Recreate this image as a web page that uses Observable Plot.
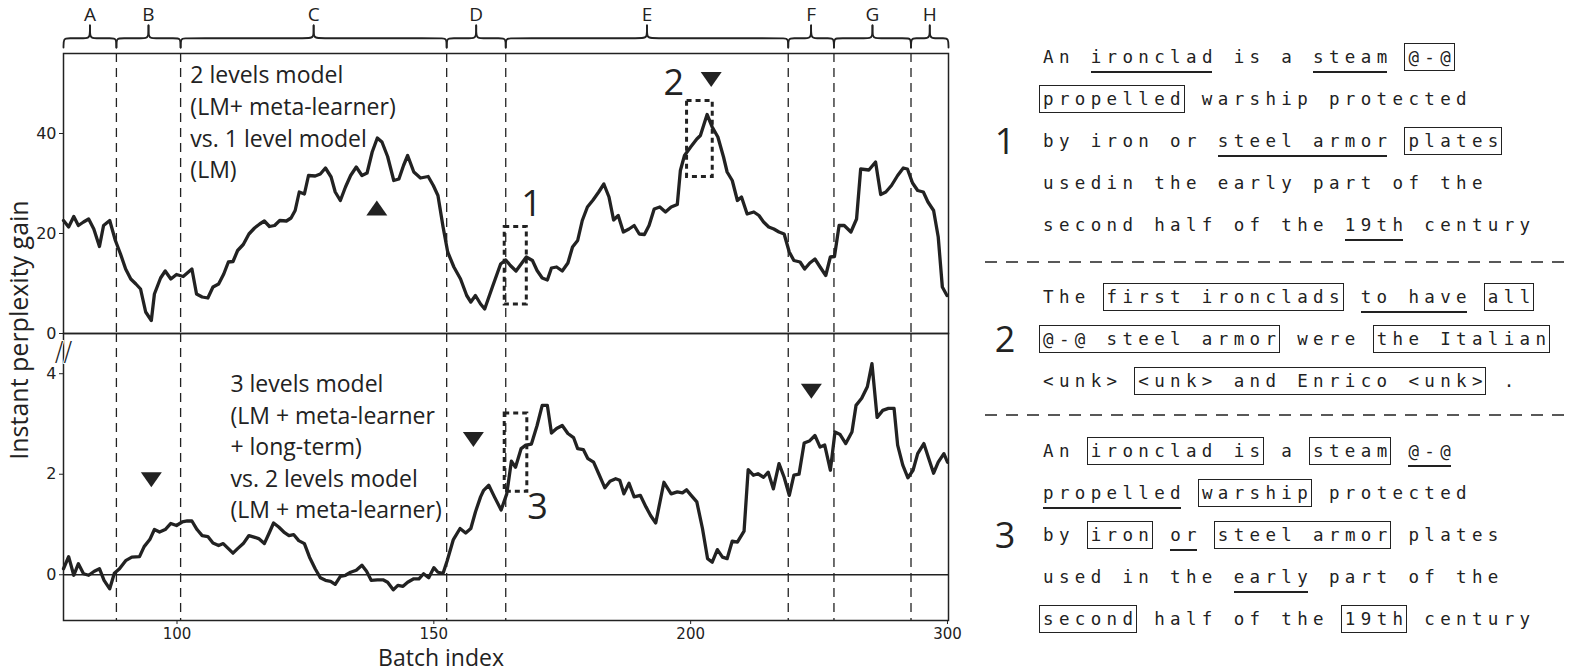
<!DOCTYPE html>
<html><head><meta charset="utf-8">
<script src="https://cdn.jsdelivr.net/npm/d3@7"></script>
<script src="https://cdn.jsdelivr.net/npm/@observablehq/plot@0.6"></script>
<style>
body{margin:0;background:#fff;}
#root{position:relative;width:1575px;height:672px;overflow:hidden;font-family:"Open Sans",sans-serif;color:#222;background:#fff}
.abs{position:absolute}
.ln{white-space:pre;font-family:"DejaVu Sans Mono",monospace;font-size:17.5px;letter-spacing:5.35px;line-height:42px;height:42px;color:#222}
.bx{outline:1.8px solid #222;outline-offset:3px}
.ul{border-bottom:2px solid #222;padding-bottom:4px}
.num{position:absolute;font-family:"Open Sans",sans-serif;font-size:36px;transform:translate(-50%,-50%);line-height:1}
</style></head><body><div id="root"></div>
<script>
// ---------- data ----------
const xDomain = [77.9, 250.2];
const boundaries = [88.2, 100.7, 152.5, 164.0, 219.0, 227.9, 242.9];
const braceLabels = ["A","B","C","D","E","F","G","H"];
const xTicks = [100, 150, 200, 250];
const xTickLabels = ["100", "150", "200", "300"];
const topTicks = [0, 20, 40];
const bottomTicks = [0, 2, 4];
const topDomain = [0, 56];
const bottomDomain = [-0.91, 4.8];

const topX = [77.9,78.9,79.9,80.8,81.8,82.8,83.8,84.9,85.7,86.9,
88.0,89.0,90.0,91.0,92.0,92.9,93.9,95.0,95.6,96.8,
97.7,98.8,99.9,101.2,102.9,103.8,104.9,106.0,107.0,108.1,
109.1,110.0,110.9,111.8,112.9,114.0,115.1,116.1,117.0,118.0,
119.0,120.0,121.3,122.2,123.0,123.8,124.8,125.6,126.9,127.9,
128.9,130.0,130.8,131.8,132.8,133.8,134.9,136.0,137.0,138.0,
139.0,139.9,141.0,142.2,143.2,144.1,144.9,146.1,147.4,148.9,
149.9,150.8,151.8,152.7,153.9,155.2,156.4,157.2,158.1,159.1,
159.9,161.4,163.0,164.0,164.9,166.0,167.0,168.0,169.2,170.1,
171.1,172.1,172.9,173.9,175.0,176.1,177.0,178.0,178.9,179.9,
181.0,182.1,183.1,184.1,185.0,185.9,186.9,188.0,189.0,190.0,
191.0,191.9,192.9,194.0,195.1,196.2,197.4,198.0,198.8,200.0,
201.2,201.9,203.2,204.2,205.3,206.4,207.1,208.1,209.1,209.9,
211.0,212.3,213.3,214.2,215.2,216.2,217.2,218.2,219.2,220.1,
221.3,222.2,223.2,224.2,225.2,226.3,227.2,228.0,228.9,229.9,
231.2,232.3,233.1,234.7,236.0,237.0,238.0,239.1,240.3,241.4,
242.2,243.2,244.2,245.3,246.2,247.3,248.2,249.0,249.9];
const topY = [22.6,21.3,23.4,21.6,22.3,22.9,20.9,17.4,21.6,22.6,
18.6,15.9,12.9,10.9,9.9,8.9,4.3,2.6,7.9,11.1,
12.5,10.9,11.8,11.4,12.9,7.9,7.3,7.1,9.3,9.9,
11.9,14.3,14.4,16.6,17.8,19.9,21.1,21.9,22.5,21.4,
21.6,22.6,22.5,23.1,24.6,28.3,27.9,31.6,31.5,31.9,
33.1,31.3,28.3,26.6,29.3,31.6,33.3,31.6,32.1,36.3,
39.1,38.3,35.4,30.6,30.9,33.6,35.6,32.3,31.1,31.4,
29.6,27.6,21.3,16.3,13.3,10.9,7.6,6.3,7.6,5.9,
4.9,9.3,13.9,14.7,13.6,12.5,13.9,15.3,14.6,12.6,
11.1,10.7,13.1,13.3,12.5,14.1,17.3,18.6,22.6,25.3,
26.7,28.3,29.9,27.3,22.7,23.6,20.3,20.9,21.6,19.9,
19.8,21.6,24.9,25.3,24.3,25.3,25.8,32.6,35.6,37.3,
38.9,39.6,43.8,41.3,39.3,35.3,32.3,30.6,26.6,27.3,
23.9,24.3,23.6,22.3,21.3,20.9,20.3,19.9,16.3,14.6,
14.3,12.9,14.1,14.9,13.3,11.6,15.3,15.4,21.6,21.6,
20.3,22.9,32.9,32.7,34.3,27.8,28.3,29.6,31.6,33.1,
32.9,30.1,28.6,28.3,26.3,24.6,19.3,9.3,7.6];

const botX = [77.9,78.9,79.9,80.8,81.8,82.8,83.9,84.9,85.8,86.9,
87.8,88.8,90.0,91.2,92.7,93.6,94.7,95.6,96.6,97.7,
98.8,99.9,101.0,102.0,102.9,103.9,104.9,106.0,107.0,108.1,
109.0,110.0,110.9,111.8,112.9,114.0,115.0,115.9,117.0,117.9,
118.8,119.8,120.8,121.8,122.7,123.7,124.8,125.8,126.9,127.9,
128.9,129.9,130.8,131.8,132.8,133.8,134.9,136.0,136.9,137.8,
139.0,140.1,141.0,142.1,143.0,144.0,144.9,146.1,147.1,148.0,
149.0,150.0,150.8,151.8,152.6,153.8,155.1,156.2,157.2,158.1,
159.1,159.7,160.7,161.8,163.1,164.2,165.1,165.9,167.0,167.9,
169.0,170.1,171.1,172.1,172.9,173.9,175.0,176.1,177.2,178.0,
179.1,180.0,181.1,182.1,183.3,184.3,185.4,186.2,187.0,188.0,
189.0,190.2,191.3,192.2,193.2,194.8,196.2,197.4,198.4,199.2,
200.1,201.2,202.3,203.3,204.2,205.2,206.2,207.1,208.1,209.1,
210.4,211.2,212.2,213.1,214.2,215.1,216.1,217.2,218.2,219.2,
220.1,221.1,222.1,223.1,224.2,225.2,226.1,227.2,228.1,229.1,
230.2,231.4,232.2,233.3,234.4,235.3,236.3,237.4,238.5,239.6,
240.3,241.3,242.3,243.3,244.2,245.4,246.3,247.3,248.2,249.3,
250.0];
const botY = [0.12,0.36,-0.01,0.22,0.02,-0.01,0.07,0.12,-0.11,-0.28,
0.03,0.12,0.28,0.35,0.36,0.56,0.70,0.90,0.85,0.90,
1.02,0.98,1.05,1.07,1.07,0.90,0.78,0.76,0.63,0.58,
0.62,0.52,0.43,0.52,0.62,0.78,0.75,0.72,0.62,0.82,
1.03,0.95,0.85,0.78,0.80,0.68,0.62,0.35,0.12,-0.06,
-0.11,-0.13,-0.19,-0.03,-0.01,0.05,0.09,0.19,0.07,-0.11,
-0.10,-0.10,-0.15,-0.30,-0.21,-0.23,-0.15,-0.08,-0.08,0.02,
-0.06,0.14,0.05,0.03,0.28,0.70,0.92,0.83,0.92,1.25,
1.55,1.68,1.78,1.55,1.29,1.61,2.26,2.14,2.51,2.58,
2.60,2.97,3.37,3.37,2.82,2.91,2.97,2.81,2.73,2.51,
2.49,2.31,2.24,2.01,1.73,1.86,1.91,1.88,1.61,1.82,
1.55,1.58,1.35,1.18,1.03,1.84,1.61,1.65,1.63,1.69,
1.58,1.45,0.92,0.32,0.25,0.50,0.35,0.32,0.67,0.65,
0.87,2.09,1.98,2.01,1.94,2.04,1.71,2.21,1.94,1.58,
1.98,2.00,2.62,2.66,2.77,2.54,2.58,2.08,2.84,2.79,
2.61,2.84,3.37,3.51,3.74,4.20,3.13,3.27,3.31,3.31,
2.58,2.18,1.93,2.08,2.41,2.61,2.33,2.02,2.24,2.41,
2.24];

const topBoxes = [{x1:163.8,x2:168.1,y1:5.8,y2:21.3},{x1:199.3,x2:204.3,y1:31.3,y2:46.5}];
const bottomBoxes = [{x1:163.8,x2:168.2,y1:1.65,y2:3.21}];
const topBoxLabels = [{x:169.0,y:25.9,text:"1"},{x:196.7,y:50.0,text:"2"}];
const bottomBoxLabels = [{x:170.2,y:1.33,text:"3"}];
const topMarkersUp = [{x:138.9,y:25.1}];
const topMarkersDown = [{x:204.0,y:50.8}];
const bottomMarkersDown = [{x:95.0,y:1.89},{x:157.7,y:2.69},{x:223.5,y:3.65}];
const topNote = [{x:102.6,y:54.6,text:"2 levels model\n(LM+ meta-learner)\nvs. 1 level model\n(LM)"}];
const bottomNote = [{x:110.4,y:4.08,text:"3 levels model\n(LM + meta-learner\n+ long-term)\nvs. 2 levels model\n(LM + meta-learner)"}];
const breakMark = [{x:77.9,y:4.42,text:"//"}];

const passage1 = [
  [["An ",""],["ironclad","u"],[" is a ",""],["steam","u"],[" ",""],["@-@","b"]],
  [["propelled","b"],[" warship protected",""]],
  [["by iron or ",""],["steel armor","u"],[" ",""],["plates","b"]],
  [["usedin the early part of the",""]],
  [["second half of the ",""],["19th","u"],[" century",""]]
];
const passage2 = [
  [["The ",""],["first ironclads","b"],[" ",""],["to have","u"],[" ",""],["all","b"]],
  [["@-@ steel armor","b"],[" were ",""],["the Italian","b"]],
  [["<unk> ",""],["<unk> and Enrico <unk>","b"],[" .",""]]
];
const passage3 = [
  [["An ",""],["ironclad is","b"],[" a ",""],["steam","b"],[" ",""],["@-@","u"]],
  [["propelled","u"],[" ",""],["warship","b"],[" protected",""]],
  [["by ",""],["iron","b"],[" ",""],["or","u"],[" ",""],["steel armor","b"],[" plates",""]],
  [["used in the ",""],["early","u"],[" part of the",""]],
  [["second","b"],[" half of the ",""],["19th","b"],[" century",""]]
];
const passageLabels = ["1","2","3"];

// ---------- build ----------
const root = document.getElementById("root");
const ink = "#222";
const W = 960, ML = 63, MR = 12;

// axis titles first (plots drawn above them)
const yt = document.createElement("div");
yt.textContent = "Instant perplexity gain";
yt.style.cssText = "position:absolute;left:18px;top:330px;transform:translate(-50%,-50%) rotate(-90deg);white-space:nowrap;font-size:25px;line-height:1;font-family:'Open Sans';color:#222";
root.appendChild(yt);
const xt = document.createElement("div");
xt.textContent = "Batch index";
xt.style.cssText = "position:absolute;left:441px;top:657px;transform:translate(-50%,-50%);white-space:nowrap;font-size:23px;line-height:1;font-family:'Open Sans';color:#222";
root.appendChild(xt);

function place(el, left, top){ const d = document.createElement("div"); d.className="abs"; d.style.left=left+"px"; d.style.top=top+"px"; d.appendChild(el); root.appendChild(d); return d; }

const triUp = {draw(ctx, size){ const r = Math.sqrt(size/Math.PI); const w=r*1.05, h=r*0.75; ctx.moveTo(0,-h); ctx.lineTo(w,h); ctx.lineTo(-w,h); ctx.closePath(); }};
const triDown = {draw(ctx, size){ const r = Math.sqrt(size/Math.PI); const w=r*1.05, h=r*0.75; ctx.moveTo(0,h); ctx.lineTo(w,-h); ctx.lineTo(-w,-h); ctx.closePath(); }};
const intFmt = d3.format("d");

// braces
const edges = [xDomain[0], ...boundaries, xDomain[1]];
const segs = braceLabels.map((label,i)=>({a:edges[i], b:edges[i+1], label}));
const bracePts = [];
segs.forEach((s,i)=>{
  const m = (s.a+s.b)/2, r = Math.min(0.9, (s.b-s.a)/8), yb = 0.42;
  [["L",[[s.a,0],[s.a,yb],[s.a+r,yb],[m-r,yb],[m,yb],[m,1]]],["R",[[s.b,0],[s.b,yb],[s.b-r,yb],[m+r,yb],[m,yb],[m,1]]]]
   .forEach(([side,pts])=>pts.forEach(([x,y])=>bracePts.push({id:i+side,x,y})));
});
const braces = Plot.plot({
  width: W, height: 53, marginLeft: ML, marginRight: MR, marginTop: 0, marginBottom: 0,
  x: {domain: xDomain, axis: null},
  y: {domain: [0,1], range: [47,25], axis: null},
  style: {background:"transparent", overflow:"visible"},
  marks: [
    Plot.line(bracePts, {x:"x", y:"y", z:"id", curve:"basis", stroke:ink, strokeWidth:1.8}),
    Plot.text(segs, {x: d=>(d.a+d.b)/2, y: ()=>1.5, text:"label", fontSize:19, fontFamily:"Open Sans", fill:ink, lineAnchor:"middle"})
  ]
});
place(braces, 0, 0);

// top panel
const topData = topX.map((x,i)=>({x, y: topY[i]}));
const topPlot = Plot.plot({
  width: W, height: 293, marginLeft: ML, marginRight: MR, marginTop: 10, marginBottom: 3,
  x: {domain: xDomain, axis: null},
  y: {domain: topDomain, axis: null},
  style: {background:"transparent", overflow:"visible"},
  marks: [
    Plot.ruleX(boundaries, {stroke:ink, strokeWidth:1.3, strokeDasharray:"9,6"}),
    Plot.frame({stroke:ink, strokeWidth:1.5}),
    Plot.axisY({ticks: topTicks, tickFormat: intFmt, tickSize: 4, tickPadding: 3, label: null, fontSize: 16, fontFamily:"DejaVu Sans", color: ink}),
    Plot.rect(topBoxes, {x1:"x1", x2:"x2", y1:"y1", y2:"y2", fill:"none", stroke:ink, strokeWidth:3, strokeDasharray:"5,4"}),
    Plot.line(topData, {x:"x", y:"y", stroke:ink, strokeWidth:3.3}),
    Plot.dot(topMarkersUp, {x:"x", y:"y", r:10, symbol: triUp, fill:ink, stroke:"none"}),
    Plot.dot(topMarkersDown, {x:"x", y:"y", r:10, symbol: triDown, fill:ink, stroke:"none"}),
    Plot.text(topNote, {x:"x", y:"y", text:"text", textAnchor:"start", lineAnchor:"top", lineHeight:1.38, fontSize:23, fontFamily:"Open Sans", fill:ink}),
    Plot.text(topBoxLabels, {x:"x", y:"y", text:"text", fontSize:36, fontFamily:"Open Sans", fill:ink, lineAnchor:"middle"})
  ]
});
place(topPlot, 0, 43);

// bottom panel
const botData = botX.map((x,i)=>({x, y: botY[i]}));
const botPlot = Plot.plot({
  width: W, height: 342, marginLeft: ML, marginRight: MR, marginTop: 3, marginBottom: 52,
  x: {domain: xDomain},
  y: {domain: bottomDomain},
  style: {background:"transparent", overflow:"visible"},
  marks: [
    Plot.ruleX(boundaries, {stroke:ink, strokeWidth:1.3, strokeDasharray:"9,6"}),
    Plot.ruleY([0], {stroke:ink, strokeWidth:1.5}),
    Plot.frame({stroke:ink, strokeWidth:1.5}),
    Plot.axisY({ticks: bottomTicks, tickFormat: intFmt, tickSize: 4, tickPadding: 3, label: null, fontSize: 16, fontFamily:"DejaVu Sans", color: ink}),
    Plot.axisX({ticks: xTicks, tickFormat: d => xTickLabels[xTicks.indexOf(d)], tickSize: 4, tickPadding: 4, label: null, fontSize: 15, fontFamily:"DejaVu Sans", color: ink}),
    Plot.rect(bottomBoxes, {x1:"x1", x2:"x2", y1:"y1", y2:"y2", fill:"none", stroke:ink, strokeWidth:3, strokeDasharray:"5,4"}),
    Plot.line(botData, {x:"x", y:"y", stroke:ink, strokeWidth:3.3}),
    Plot.dot(bottomMarkersDown, {x:"x", y:"y", r:10, symbol: triDown, fill:ink, stroke:"none"}),
    Plot.text(bottomNote, {x:"x", y:"y", text:"text", textAnchor:"start", lineAnchor:"top", lineHeight:1.37, fontSize:23, fontFamily:"Open Sans", fill:ink}),
    Plot.text(bottomBoxLabels, {x:"x", y:"y", text:"text", fontSize:36, fontFamily:"Open Sans", fill:ink, lineAnchor:"middle"}),
    Plot.text(breakMark, {x:"x", y:"y", text:"text", fontSize:26, fontFamily:"DejaVu Sans", fontWeight:200, fill:ink, stroke:"white", strokeWidth:2, paintOrder:"stroke", lineAnchor:"middle"})
  ]
});
place(botPlot, 0, 330);

// text panel
const LS = 5.35;
function renderLine(tokens){
  const div = document.createElement("div");
  div.className = "ln";
  for (const [t, s] of tokens){
    if (!s){ div.appendChild(document.createTextNode(t)); continue; }
    const sp = document.createElement("span");
    sp.className = s === "b" ? "bx" : "ul";
    sp.style.marginRight = LS + "px";
    sp.appendChild(document.createTextNode(t.slice(0,-1)));
    const last = document.createElement("span");
    last.style.letterSpacing = "0";
    last.textContent = t.slice(-1);
    sp.appendChild(last);
    div.appendChild(sp);
  }
  return div;
}
const passages = [passage1, passage2, passage3];
const passageTops = [36, 276, 430];
passages.forEach((p, k)=>{
  const block = document.createElement("div");
  block.style.cssText = "position:absolute;left:1043px;top:"+passageTops[k]+"px";
  p.forEach(line=>block.appendChild(renderLine(line)));
  root.appendChild(block);
  const num = document.createElement("div");
  num.className = "num";
  num.textContent = passageLabels[k];
  num.style.left = "1005px";
  num.style.top = (passageTops[k] + 42*(p.length/2)) + "px";
  root.appendChild(num);
});
// separators
const sepYs = [262, 415];
const ns = "http://www.w3.org/2000/svg";
const sepSvg = document.createElementNS(ns, "svg");
sepSvg.setAttribute("width", 1575); sepSvg.setAttribute("height", 672);
sepSvg.style.cssText = "position:absolute;left:0;top:0;pointer-events:none";
sepYs.forEach(y=>{
  const l = document.createElementNS(ns, "line");
  l.setAttribute("x1", 985); l.setAttribute("x2", 1565); l.setAttribute("y1", y); l.setAttribute("y2", y);
  l.setAttribute("stroke", ink); l.setAttribute("stroke-width", 1.3); l.setAttribute("stroke-dasharray", "12,9");
  sepSvg.appendChild(l);
});
root.appendChild(sepSvg);
</script></body></html>
